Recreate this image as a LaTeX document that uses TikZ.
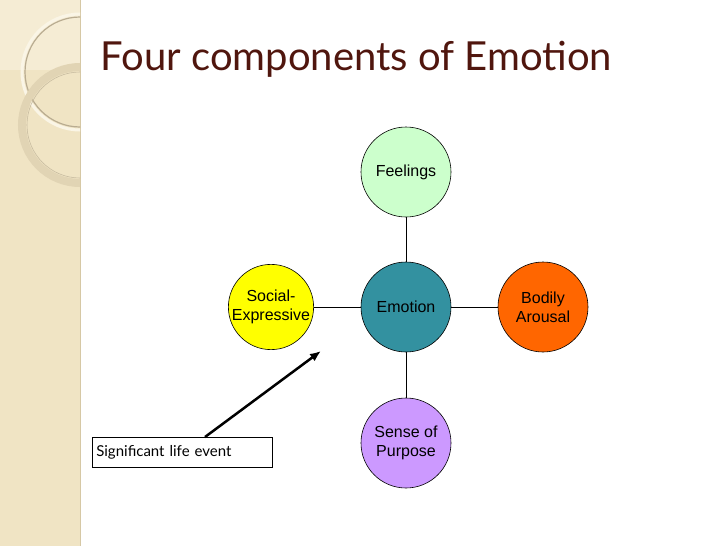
\documentclass[tikz,border=0pt]{standalone}
\usepackage{fontspec}
\usetikzlibrary{arrows.meta}
\setmainfont{Liberation Sans}
\newfontfamily\gill{Lato}
\begin{document}
\begin{tikzpicture}[x=1pt,y=-1pt,
  comp/.style={circle,draw=black,line width=0.6pt,minimum size=90pt,inner sep=0pt,align=center,font=\fontsize{16}{19}\selectfont},
  link/.style={line width=1pt}]
\useasboundingbox (0,0) rectangle (728,546);
\fill[white] (0,0) rectangle (728,546);
% left decorative stripe
\fill[color={rgb,255:red,240;green,228;blue,196}] (0,0) rectangle (80,546);
\fill[color={rgb,255:red,245;green,236;blue,212}] (0,0) rectangle (80,70);
\draw[color={rgb,255:red,214;green,200;blue,165},line width=1pt] (80,0) -- (80,546);
\begin{scope}
\clip (0,0) rectangle (80,546);
\draw[color={rgb,255:red,250;green,245;blue,230},line width=3pt] (80,72) circle (58);
\draw[color={rgb,255:red,185;green,172;blue,145},line width=1.2pt] (80,72) circle (55);
\draw[color={rgb,255:red,225;green,212;blue,180},line width=8pt] (80,125) circle (58);
\draw[color={rgb,255:red,200;green,188;blue,160},line width=0.6pt] (80,125) circle (53);
\end{scope}
% title
\node[anchor=base west,text={rgb,255:red,80;green,22;blue,14}] (title) at (97,70) {\gill\fontsize{40}{44}\selectfont Four components of Emotion};
% circles
\node[comp,fill={rgb,255:red,51;green,145;blue,160}] (emo) at (406,307) {Emotion};
\node[comp,fill={rgb,255:red,204;green,255;blue,204}] (feel) at (406,172) {Feelings};
\node[comp,fill={rgb,255:red,255;green,102;blue,0}] (body) at (543,307) {Bodily\\Arousal};
\node[comp,fill={rgb,255:red,255;green,255;blue,0},minimum size=77pt] (soc) at (271,307) {Social-\\Expressive};
\node[comp,fill={rgb,255:red,204;green,153;blue,255}] (sense) at (406,443) {Sense of\\Purpose};
\draw[link] (feel) -- (emo);
\draw[link] (soc) -- (emo);
\draw[link] (emo) -- (body);
\draw[link] (emo) -- (sense);
% event box
\node[draw=black,line width=0.6pt,anchor=north west,minimum width=180pt,minimum height=30pt,inner sep=4pt,text width=172pt,font=\gill\fontsize{15}{17}\selectfont] (ev) at (92,437) {Significant life event};
\coordinate (tip) at (321,351);
\draw[line width=2.5pt,-{Latex[length=11pt,width=9pt]}] (205,437) -- (tip);
\end{tikzpicture}
\end{document}
